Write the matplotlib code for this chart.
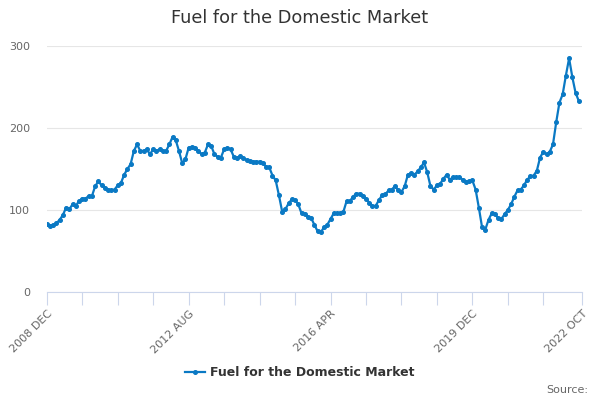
import matplotlib
matplotlib.use("Agg")
import matplotlib.pyplot as plt

title = "Fuel for the Domestic Market"
series_name = "Fuel for the Domestic Market"

# monthly values, 2008 DEC .. 2022 OCT
values = [
    83, 81, 82, 84, 88, 94, 103, 101, 107, 105,
    111, 114, 114, 117, 117, 129, 135, 130, 127, 125,
    124, 125, 130, 133, 143, 150, 156, 172, 180, 172,
    172, 174, 168, 174, 172, 174, 172, 172, 180, 189,
    185, 172, 157, 162, 176, 177, 176, 172, 168, 170,
    180, 178, 168, 165, 164, 174, 176, 174, 165, 163,
    166, 163, 161, 160, 159, 159, 159, 157, 153, 152,
    142, 136, 118, 98, 101, 108, 113, 112, 107, 96,
    95, 92, 90, 82, 74, 73, 79, 82, 89, 96,
    96, 96, 98, 111, 111, 116, 120, 120, 117, 114,
    109, 105, 105, 112, 118, 119, 124, 125, 129, 124,
    122, 129, 143, 145, 143, 147, 152, 158, 146, 129,
    125, 130, 132, 138, 143, 137, 140, 140, 140, 137,
    134, 135, 136, 125, 103, 79, 76, 88, 96, 95,
    90, 89, 95, 100, 107, 116, 124, 125, 130, 137,
    141, 142, 148, 164, 171, 168, 171, 180, 207, 231,
    241, 264, 285, 262, 243, 233,
]
tick_labels = ["2008 DEC", "2012 AUG", "2016 APR", "2019 DEC", "2022 OCT"]
tick_pos = [0, 44, 88, 132, 166]

line_color = "#0a79c4"
axis_color = "#ccd6eb"

fig = plt.figure(figsize=(6, 4), dpi=100)
ax = fig.add_axes([0.078, 0.27, 0.892, 0.615])

x = list(range(len(values)))
ax.plot(x, values, color=line_color, lw=1.6, marker="o", markersize=2.6,
        label=series_name, zorder=3)

ax.set_xlim(0, len(values) - 1)
ax.set_ylim(0, 300)
ax.set_yticks([0, 100, 200, 300])
ax.grid(axis="y", color="#e6e6e6", lw=0.8)
ax.set_axisbelow(True)

ax.set_xticks(tick_pos)
ax.set_xticklabels(tick_labels, rotation=45, ha="right", rotation_mode="anchor")
minor = [i for i in range(0, len(values) - 2, 11) if i not in tick_pos]
ax.set_xticks(minor, minor=True)
ax.tick_params(axis="x", which="both", length=9, color=axis_color, width=0.8,
               labelsize=8, labelcolor="#666666", pad=3)
ax.tick_params(axis="y", length=0, labelsize=8, labelcolor="#666666", pad=12)

for s in ["top", "right", "left"]:
    ax.spines[s].set_visible(False)
ax.spines["bottom"].set_color(axis_color)
ax.spines["bottom"].set_linewidth(0.8)

fig.text(0.5, 0.955, title, ha="center", va="center", fontsize=12.8, color="#333333")

fig.legend(loc="center", bbox_to_anchor=(0.5, 0.068), frameon=False,
           prop={"size": 9, "weight": "bold"}, labelcolor="#333333",
           handlelength=1.6, handletextpad=0.4)
fig.text(0.98, 0.025, "Source:", ha="right", va="center", fontsize=8, color="#666666")

fig.savefig("out.png", dpi=100)
